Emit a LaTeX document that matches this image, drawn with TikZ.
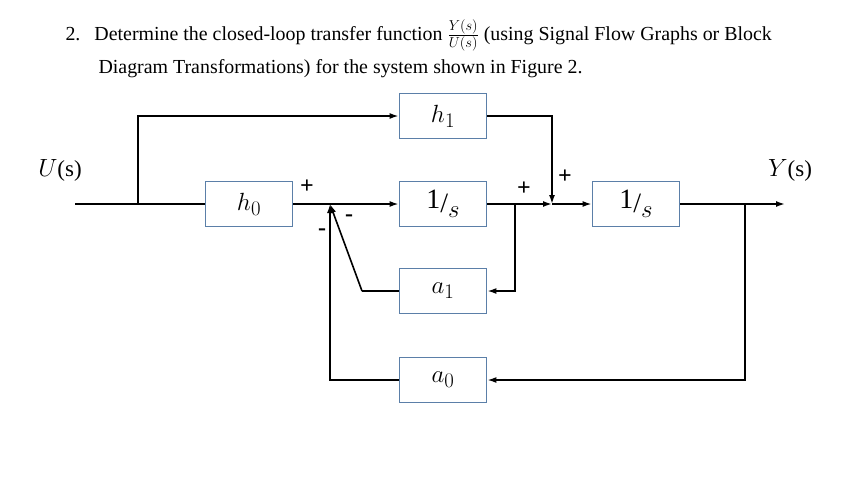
\documentclass[tikz,border=0pt]{standalone}
\usepackage{fontspec}
\setmainfont{Liberation Serif}
\usetikzlibrary{arrows.meta}
\definecolor{boxblue}{HTML}{5B7FA8}
\begin{document}
\begin{tikzpicture}[x=1pt,y=-1pt,
  blk/.style={draw=boxblue,line width=1.8pt,minimum width=87pt,minimum height=45pt,inner sep=0pt,font=\fontsize{28}{28}\selectfont},
  sig/.style={line width=1.6pt,-{Latex[length=9pt,width=6pt]}},
  ln/.style={line width=1.6pt},
  sgn/.style={font=\bfseries\fontsize{24}{24}\selectfont}]
\useasboundingbox (0,0) rectangle (848,491);
% heading
\node[anchor=base west,font=\fontsize{19.9}{20}\selectfont] (t1) at (62,40) {2.\hspace{14pt}Determine the closed-loop transfer function $\frac{Y(s)}{U(s)}$ (using Signal Flow Graphs or Block};
\node[anchor=base west,font=\fontsize{19.9}{20}\selectfont] (t2) at (95,73) {Diagram Transformations) for the system shown in Figure 2.};
% blocks
\node[blk] (h1) at (443,116) {$h_1$};
\node[blk] (h0) at (249,204) {$h_0$};
\node[blk] (i1) at (443,204) {\raisebox{4pt}{1}/\raisebox{-5pt}{$s$}};
\node[blk] (i2) at (636,204) {\raisebox{4pt}{1}/\raisebox{-5pt}{$s$}};
\node[blk] (a1) at (443,291) {$a_1$};
\node[blk] (a0) at (443,380) {$a_0$};
% labels
\node[font=\fontsize{23}{23}\selectfont] (u) at (60,170) {$U$(s)};
\node[font=\fontsize{23}{23}\selectfont] (y) at (790,170) {$Y$(s)};
% coordinates
\coordinate (in) at (75,204);
\coordinate (br) at (138,204);
\coordinate (brt) at (138,116);
\coordinate (s1) at (330,204);
\coordinate (s2) at (552,204);
\coordinate (s2t) at (552,116);
\coordinate (p1) at (515,204);
\coordinate (p1b) at (515,291);
\coordinate (d) at (362,291);
\coordinate (p0) at (745,204);
\coordinate (p0b) at (745,380);
\coordinate (f0) at (330,380);
\coordinate (out) at (785,204);
% connectors
\draw[ln] (in) -- (h0.west);
\draw[sig] (br) -- (brt) -- (h1.west);
\draw[sig] (h0.east) -- (i1.west);
\draw[sig] (h1.east) -- (s2t) -- (s2);
\draw[sig] (i1.east) -- (s2);
\draw[sig] (s2) -- (i2.west);
\draw[sig] (i2.east) -- (out);
\draw[sig] (p1) -- (p1b) -- (a1.east);
\draw[ln] (a1.west) -- (d);
\draw[sig] (d) -- (s1);
\draw[sig] (p0) -- (p0b) -- (a0.east);
\draw[sig] (a0.west) -- (f0) -- (s1);
% signs
\node[sgn] (pl1) at (307,187) {+};
\node[sgn] (mi1) at (322,232) {-};
\node[sgn] (mi2) at (349,218) {-};
\node[sgn] (pl2) at (524,189) {+};
\node[sgn] (pl3) at (565,177) {+};
\end{tikzpicture}
\end{document}
